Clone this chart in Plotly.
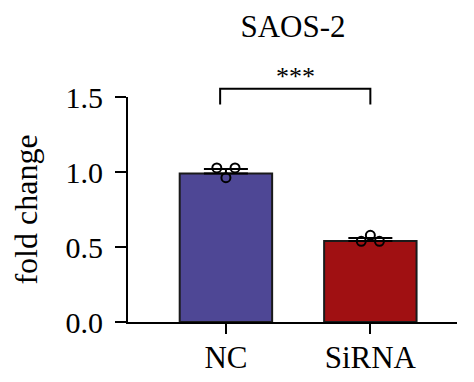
import plotly.graph_objects as go

categories = ["NC", "SiRNA"]
bar_means = [0.99, 0.54]
bar_sd = [0.03, 0.02]
points_nc = [1.027, 0.962, 1.027]
points_si = [0.538, 0.578, 0.538]
point_offsets = [-0.063, 0.0, 0.063]
y_ticks = [0.0, 0.5, 1.0, 1.5]
y_ticktext = ["0.0", "0.5", "1.0", "1.5"]
bar_colors = ["#4E4795", "#A01012"]
sig_label = "***"
sig_y = 1.555
sig_drop = 1.45

FONT = "Liberation Serif"
Y_MAX = 1.5
xpos = list(range(len(categories)))

fig = go.Figure()
fig.add_trace(go.Bar(
    x=xpos, y=bar_means, width=0.64,
    marker=dict(color=bar_colors, line=dict(color="#1a1a1a", width=2)),
    error_y=dict(type="data", array=bar_sd, arrayminus=[0, 0], visible=True,
                 color="black", thickness=2, width=22),
    showlegend=False,
))
for i, pts in enumerate([points_nc, points_si]):
    fig.add_trace(go.Scatter(
        x=[i + o for o in point_offsets], y=pts, mode="markers",
        marker=dict(symbol="circle-open", size=9, color="black", line=dict(width=2)),
        showlegend=False, cliponaxis=False,
    ))

# significance bracket (y converted from data units to paper units)
yb = sig_y / Y_MAX
yd = sig_drop / Y_MAX
fig.add_shape(type="path",
              path=f"M {xpos[0]-0.04},{yd} L {xpos[0]-0.04},{yb} L {xpos[1]},{yb} L {xpos[1]},{yd}",
              xref="x", yref="paper", line=dict(color="black", width=2))
fig.add_annotation(x=(xpos[0] + xpos[1]) / 2 - 0.02, y=(sig_y + 0.08) / Y_MAX, text=sig_label,
                   showarrow=False, xref="x", yref="paper",
                   font=dict(family=FONT, size=26, color="black"), yanchor="middle")

# page body has an 8px margin, so the figure is 8px smaller than the window
fig.update_layout(
    width=466, height=374,
    margin=dict(l=120, r=17, t=89, b=60, autoexpand=False),
    plot_bgcolor="white", paper_bgcolor="white",
    font=dict(family=FONT, size=30, color="black"),
    title=dict(text="SAOS-2", x=0.6116, xanchor="center", y=0.952, yanchor="middle",
               font=dict(family=FONT, size=31, color="black")),
    xaxis=dict(range=[-0.678, 1.60], tickvals=xpos, ticktext=categories,
               showline=True, linecolor="black", linewidth=2,
               ticks="outside", ticklen=10, tickwidth=2, tickcolor="black",
               ticklabelstandoff=-3,
               showgrid=False, zeroline=False, tickfont=dict(size=31), automargin=False),
    yaxis=dict(range=[0, Y_MAX], tickvals=y_ticks, ticktext=y_ticktext,
               showline=True, linecolor="black", linewidth=2,
               ticks="outside", ticklen=11, tickwidth=2, tickcolor="black",
               ticklabelstandoff=6,
               showgrid=False, zeroline=False, tickfont=dict(size=30), automargin=False,
               title=dict(text="fold change", font=dict(size=32), standoff=18)),
)
fig.write_html("out.html")
